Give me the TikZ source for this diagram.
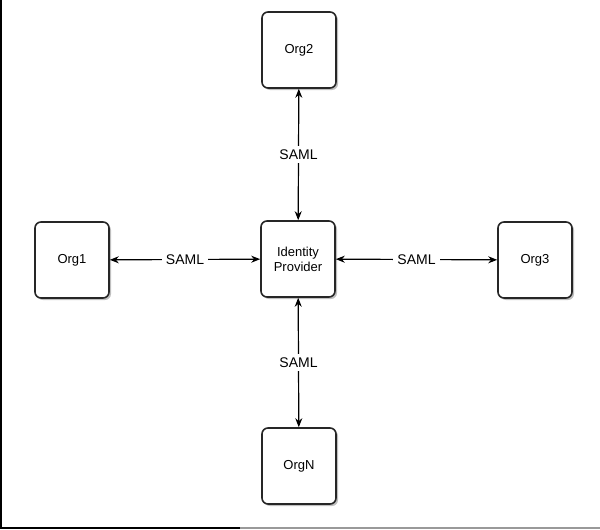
\documentclass[tikz,border=0pt]{standalone}
\usepackage{fontspec}
\setmainfont{Liberation Sans}
\usetikzlibrary{shadows,arrows.meta}
\tikzset{
  org/.style={draw=black!85,line width=1.6pt,rounded corners=6pt,fill=white,minimum width=74pt,minimum height=76pt,
    align=center,font=\fontsize{13}{15}\selectfont,drop shadow={shadow xshift=2pt,shadow yshift=-2pt,opacity=.5}},
  link/.style={line width=1.2pt,{Stealth[length=9pt,width=7pt]}-{Stealth[length=9pt,width=7pt]}},
  lbl/.style={fill=white,font=\fontsize{14}{16}\selectfont,inner sep=4pt}
}
\begin{document}
\begin{tikzpicture}[x=1pt,y=-1pt]
	\useasboundingbox (0,0) rectangle (600,530);
	\draw[line width=2pt] (1,0) -- (1,528) -- (240,528);
	\draw[line width=1.5pt,black!40] (240,528) -- (600,528);
	
	\node[org] (idp) at (298,259) {Identity\\Provider};
	\node[org] (org2) at (299,50) {Org2};
	\node[org] (org1) at (72,260) {Org1};
	\node[org] (org3) at (535,260) {Org3};
	\node[org] (orgn) at (299,466) {OrgN};
	
	\draw[link] (org1) -- node[lbl] {SAML} (idp);
	\draw[link] (idp) -- node[lbl] {SAML} (org3);
	\draw[link] (org2) -- node[lbl] {SAML} (idp);
	\draw[link] (idp) -- node[lbl] {SAML} (orgn);
\end{tikzpicture}
\end{document}
